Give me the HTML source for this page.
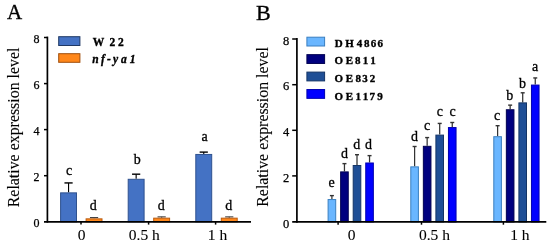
<!DOCTYPE html>
<html><head><meta charset="utf-8"><title>Relative expression level</title>
<style>
html,body{margin:0;padding:0;background:#fff;width:550px;height:245px;overflow:hidden}
svg{display:block}
text{font-family:"Liberation Serif", "Times New Roman", serif;fill:#000;stroke:#000;stroke-width:0.35px}
text.tk{stroke-width:0.25px}
text.lb{stroke-width:0.1px}
text.sg{stroke-width:0.28px}
</style></head><body>
<svg width="550" height="245" viewBox="0 0 550 245">
<rect x="0" y="0" width="550" height="245" fill="#fff"/>
<text x="7.0" y="19.1" font-size="21">A</text>
<text x="256.0" y="20.1" font-size="22">B</text>
<text class="lb" transform="translate(19.3,127.4) rotate(-90)" font-size="15.9" text-anchor="middle">Relative expression level</text>
<text class="lb" transform="translate(268.2,126.9) rotate(-90)" font-size="15.9" text-anchor="middle">Relative expression level</text>
<line x1="68.55" y1="182.93" x2="68.55" y2="192.36" stroke="#000" stroke-width="1.15"/>
<line x1="64.45" y1="182.93" x2="72.65" y2="182.93" stroke="#000" stroke-width="1.4"/>
<rect x="60.6" y="192.86" width="15.9" height="28.94" fill="#4472C4" stroke="#2F528F" stroke-width="1"/>
<line x1="94.05" y1="217.55" x2="94.05" y2="218.35" stroke="#444" stroke-width="1.15"/>
<line x1="89.95" y1="217.55" x2="98.15" y2="217.55" stroke="#444" stroke-width="1.1"/>
<rect x="86.1" y="218.85" width="15.9" height="2.95" fill="#FF871A" stroke="#B85A10" stroke-width="1"/>
<line x1="136.15" y1="174.19" x2="136.15" y2="178.79" stroke="#000" stroke-width="1.15"/>
<line x1="132.05" y1="174.19" x2="140.25" y2="174.19" stroke="#000" stroke-width="1.4"/>
<rect x="128.2" y="179.29" width="15.9" height="42.51" fill="#4472C4" stroke="#2F528F" stroke-width="1"/>
<line x1="161.65" y1="216.86" x2="161.65" y2="217.66" stroke="#444" stroke-width="1.15"/>
<line x1="157.55" y1="216.86" x2="165.75" y2="216.86" stroke="#444" stroke-width="1.1"/>
<rect x="153.7" y="218.16" width="15.9" height="3.64" fill="#FF871A" stroke="#B85A10" stroke-width="1"/>
<line x1="203.75" y1="152.11" x2="203.75" y2="153.95" stroke="#000" stroke-width="1.15"/>
<line x1="199.65" y1="152.11" x2="207.85" y2="152.11" stroke="#000" stroke-width="1.4"/>
<rect x="195.8" y="154.45" width="15.9" height="67.35" fill="#4472C4" stroke="#2F528F" stroke-width="1"/>
<line x1="229.25" y1="216.86" x2="229.25" y2="217.66" stroke="#444" stroke-width="1.15"/>
<line x1="225.15" y1="216.86" x2="233.35" y2="216.86" stroke="#444" stroke-width="1.1"/>
<rect x="221.3" y="218.16" width="15.9" height="3.64" fill="#FF871A" stroke="#B85A10" stroke-width="1"/>
<line x1="47.4" y1="36.6" x2="47.4" y2="222.65" stroke="#000" stroke-width="1.7"/>
<line x1="44.0" y1="221.8" x2="251.0" y2="221.8" stroke="#000" stroke-width="1.7"/>
<line x1="44.0" y1="37.5" x2="47.4" y2="37.5" stroke="#000" stroke-width="1.5"/>
<text class="tk" x="39.6" y="42.5" font-size="12" text-anchor="end">8</text>
<line x1="44.0" y1="83.6" x2="47.4" y2="83.6" stroke="#000" stroke-width="1.5"/>
<text class="tk" x="39.6" y="88.6" font-size="12" text-anchor="end">6</text>
<line x1="44.0" y1="129.6" x2="47.4" y2="129.6" stroke="#000" stroke-width="1.5"/>
<text class="tk" x="39.6" y="134.6" font-size="12" text-anchor="end">4</text>
<line x1="44.0" y1="175.7" x2="47.4" y2="175.7" stroke="#000" stroke-width="1.5"/>
<text class="tk" x="39.6" y="180.7" font-size="12" text-anchor="end">2</text>
<line x1="81.0" y1="221.8" x2="81.0" y2="224.6" stroke="#000" stroke-width="1.5"/>
<line x1="148.6" y1="221.8" x2="148.6" y2="224.6" stroke="#000" stroke-width="1.5"/>
<line x1="215.6" y1="221.8" x2="215.6" y2="224.6" stroke="#000" stroke-width="1.5"/>
<text class="tk" x="39.4" y="226.8" font-size="12" text-anchor="end">0</text>
<text class="lb" x="81.6" y="240.3" font-size="15.5" text-anchor="middle">0</text>
<text class="lb" x="144.3" y="240.3" font-size="15.5" text-anchor="middle">0.5 h</text>
<text class="lb" x="217.5" y="240.3" font-size="15.5" text-anchor="middle">1 h</text>
<text class="sg" x="69.1" y="174.8" font-size="14" text-anchor="middle">c</text>
<text class="sg" x="93.2" y="210.2" font-size="14" text-anchor="middle">d</text>
<text class="sg" x="137.2" y="163.8" font-size="14" text-anchor="middle">b</text>
<text class="sg" x="161.3" y="210.2" font-size="14" text-anchor="middle">d</text>
<text class="sg" x="204.6" y="140.9" font-size="14" text-anchor="middle">a</text>
<text class="sg" x="228.8" y="210.2" font-size="14" text-anchor="middle">d</text>
<rect x="58.7" y="36.7" width="21.2" height="8.8" fill="#4472C4" stroke="#1F3864" stroke-width="1"/>
<rect x="58.7" y="53.7" width="21.2" height="8.6" fill="#FF871A" stroke="#A04E0C" stroke-width="1"/>
<text x="92.8 104 109.6 118.1" y="45.8" font-size="11.5" font-weight="bold">W 22</text>
<text x="92.3 100.9 107.1 112.9 121.1 129.8" y="62.8" font-size="11.5" font-weight="bold" font-style="italic">nf-ya1</text>
<line x1="331.9" y1="195.62" x2="331.9" y2="199.05" stroke="#333" stroke-width="1.25"/>
<line x1="329.9" y1="195.62" x2="333.9" y2="195.62" stroke="#333" stroke-width="1.4"/>
<rect x="328.1" y="199.55" width="7.6" height="22.35" fill="#6AB6FF" stroke="#3A7FC0" stroke-width="1"/>
<line x1="344.45" y1="163.63" x2="344.45" y2="171.4" stroke="#333" stroke-width="1.25"/>
<line x1="342.45" y1="163.63" x2="346.45" y2="163.63" stroke="#333" stroke-width="1.4"/>
<rect x="340.65" y="171.9" width="7.6" height="50" fill="#00007F" stroke="#000050" stroke-width="1"/>
<line x1="357" y1="154.72" x2="357" y2="165" stroke="#333" stroke-width="1.25"/>
<line x1="355" y1="154.72" x2="359" y2="154.72" stroke="#333" stroke-width="1.4"/>
<rect x="353.2" y="165.5" width="7.6" height="56.4" fill="#1F4F96" stroke="#143566" stroke-width="1"/>
<line x1="369.55" y1="155.63" x2="369.55" y2="162.49" stroke="#333" stroke-width="1.25"/>
<line x1="367.55" y1="155.63" x2="371.55" y2="155.63" stroke="#333" stroke-width="1.4"/>
<rect x="365.75" y="162.99" width="7.6" height="58.91" fill="#0000FF" stroke="#0000B0" stroke-width="1"/>
<line x1="414.6" y1="146.5" x2="414.6" y2="166.37" stroke="#333" stroke-width="1.25"/>
<line x1="412.6" y1="146.5" x2="416.6" y2="146.5" stroke="#333" stroke-width="1.4"/>
<rect x="410.8" y="166.87" width="7.6" height="55.03" fill="#6AB6FF" stroke="#3A7FC0" stroke-width="1"/>
<line x1="427.15" y1="137.58" x2="427.15" y2="145.81" stroke="#333" stroke-width="1.25"/>
<line x1="425.15" y1="137.58" x2="429.15" y2="137.58" stroke="#333" stroke-width="1.4"/>
<rect x="423.35" y="146.31" width="7.6" height="75.59" fill="#00007F" stroke="#000050" stroke-width="1"/>
<line x1="439.7" y1="123.42" x2="439.7" y2="134.61" stroke="#333" stroke-width="1.25"/>
<line x1="437.7" y1="123.42" x2="441.7" y2="123.42" stroke="#333" stroke-width="1.4"/>
<rect x="435.9" y="135.11" width="7.6" height="86.79" fill="#1F4F96" stroke="#143566" stroke-width="1"/>
<line x1="452.25" y1="122.5" x2="452.25" y2="127.07" stroke="#333" stroke-width="1.25"/>
<line x1="450.25" y1="122.5" x2="454.25" y2="122.5" stroke="#333" stroke-width="1.4"/>
<rect x="448.45" y="127.57" width="7.6" height="94.33" fill="#0000FF" stroke="#0000B0" stroke-width="1"/>
<line x1="497.6" y1="125.7" x2="497.6" y2="136.21" stroke="#333" stroke-width="1.25"/>
<line x1="495.6" y1="125.7" x2="499.6" y2="125.7" stroke="#333" stroke-width="1.4"/>
<rect x="493.8" y="136.71" width="7.6" height="85.19" fill="#6AB6FF" stroke="#3A7FC0" stroke-width="1"/>
<line x1="510.15" y1="105.14" x2="510.15" y2="109.25" stroke="#333" stroke-width="1.25"/>
<line x1="508.15" y1="105.14" x2="512.15" y2="105.14" stroke="#333" stroke-width="1.4"/>
<rect x="506.35" y="109.75" width="7.6" height="112.15" fill="#00007F" stroke="#000050" stroke-width="1"/>
<line x1="522.7" y1="92.8" x2="522.7" y2="102.39" stroke="#333" stroke-width="1.25"/>
<line x1="520.7" y1="92.8" x2="524.7" y2="92.8" stroke="#333" stroke-width="1.4"/>
<rect x="518.9" y="102.89" width="7.6" height="119.01" fill="#1F4F96" stroke="#143566" stroke-width="1"/>
<line x1="535.25" y1="77.94" x2="535.25" y2="84.57" stroke="#333" stroke-width="1.25"/>
<line x1="533.25" y1="77.94" x2="537.25" y2="77.94" stroke="#333" stroke-width="1.4"/>
<rect x="531.45" y="85.07" width="7.6" height="136.83" fill="#0000FF" stroke="#0000B0" stroke-width="1"/>
<line x1="296.9" y1="38.1" x2="296.9" y2="222.75" stroke="#000" stroke-width="1.7"/>
<line x1="292.2" y1="221.9" x2="546.3" y2="221.9" stroke="#000" stroke-width="1.7"/>
<line x1="292.2" y1="39.0" x2="296.9" y2="39.0" stroke="#000" stroke-width="1.5"/>
<text class="tk" x="289.2" y="44.6" font-size="12.5" text-anchor="end">8</text>
<line x1="292.2" y1="84.7" x2="296.9" y2="84.7" stroke="#000" stroke-width="1.5"/>
<text class="tk" x="289.2" y="90.3" font-size="12.5" text-anchor="end">6</text>
<line x1="292.2" y1="130.3" x2="296.9" y2="130.3" stroke="#000" stroke-width="1.5"/>
<text class="tk" x="289.2" y="135.9" font-size="12.5" text-anchor="end">4</text>
<line x1="292.2" y1="175.9" x2="296.9" y2="175.9" stroke="#000" stroke-width="1.5"/>
<text class="tk" x="289.2" y="181.5" font-size="12.5" text-anchor="end">2</text>
<line x1="338.1" y1="221.9" x2="338.1" y2="224.7" stroke="#000" stroke-width="1.5"/>
<line x1="421.5" y1="221.9" x2="421.5" y2="224.7" stroke="#000" stroke-width="1.5"/>
<line x1="503.4" y1="221.9" x2="503.4" y2="224.7" stroke="#000" stroke-width="1.5"/>
<text class="tk" x="289.2" y="227.8" font-size="12.5" text-anchor="end">0</text>
<text class="lb" x="351.7" y="240.0" font-size="15.5" text-anchor="middle">0</text>
<text class="lb" x="434.4" y="240.0" font-size="15.5" text-anchor="middle">0.5 h</text>
<text class="lb" x="519.9" y="240.0" font-size="15.5" text-anchor="middle">1 h</text>
<text class="sg" x="331.7" y="187.4" font-size="14" text-anchor="middle">e</text>
<text class="sg" x="344.5" y="157.9" font-size="14" text-anchor="middle">d</text>
<text class="sg" x="356.8" y="148.9" font-size="14" text-anchor="middle">d</text>
<text class="sg" x="368.5" y="148.6" font-size="14" text-anchor="middle">d</text>
<text class="sg" x="414.5" y="140.8" font-size="14" text-anchor="middle">d</text>
<text class="sg" x="427.1" y="129.8" font-size="14" text-anchor="middle">c</text>
<text class="sg" x="439.8" y="116.3" font-size="14" text-anchor="middle">c</text>
<text class="sg" x="452.5" y="116.3" font-size="14" text-anchor="middle">c</text>
<text class="sg" x="497.1" y="120.1" font-size="14" text-anchor="middle">c</text>
<text class="sg" x="509.8" y="99.7" font-size="14" text-anchor="middle">b</text>
<text class="sg" x="522.6" y="88.2" font-size="14" text-anchor="middle">b</text>
<text class="sg" x="535.1" y="71.0" font-size="14" text-anchor="middle">a</text>
<rect x="306.9" y="37.2" width="17.7" height="8.8" fill="#6AB6FF" stroke="#3A7FC0" stroke-width="1"/>
<rect x="306.9" y="54.65" width="17.7" height="8.8" fill="#00007F" stroke="#000050" stroke-width="1"/>
<rect x="306.9" y="72.1" width="17.7" height="8.8" fill="#1F4F96" stroke="#143566" stroke-width="1"/>
<rect x="306.9" y="89.55" width="17.7" height="8.8" fill="#0000FF" stroke="#0000B0" stroke-width="1"/>
<text x="334.65 345.35 356.65 364.1 370.7 377.5" y="46.5" font-size="11" font-weight="bold">DH4866</text>
<text x="334.4 345.85 355.0 362.8 370.2" y="64.0" font-size="11" font-weight="bold">OE811</text>
<text x="334.4 345.85 355.5 362.3 369.7" y="81.8" font-size="11" font-weight="bold">OE832</text>
<text x="334.4 345.85 355.4 362.8 369.45 377.25" y="99.5" font-size="11" font-weight="bold">OE1179</text>
</svg>
</body></html>
